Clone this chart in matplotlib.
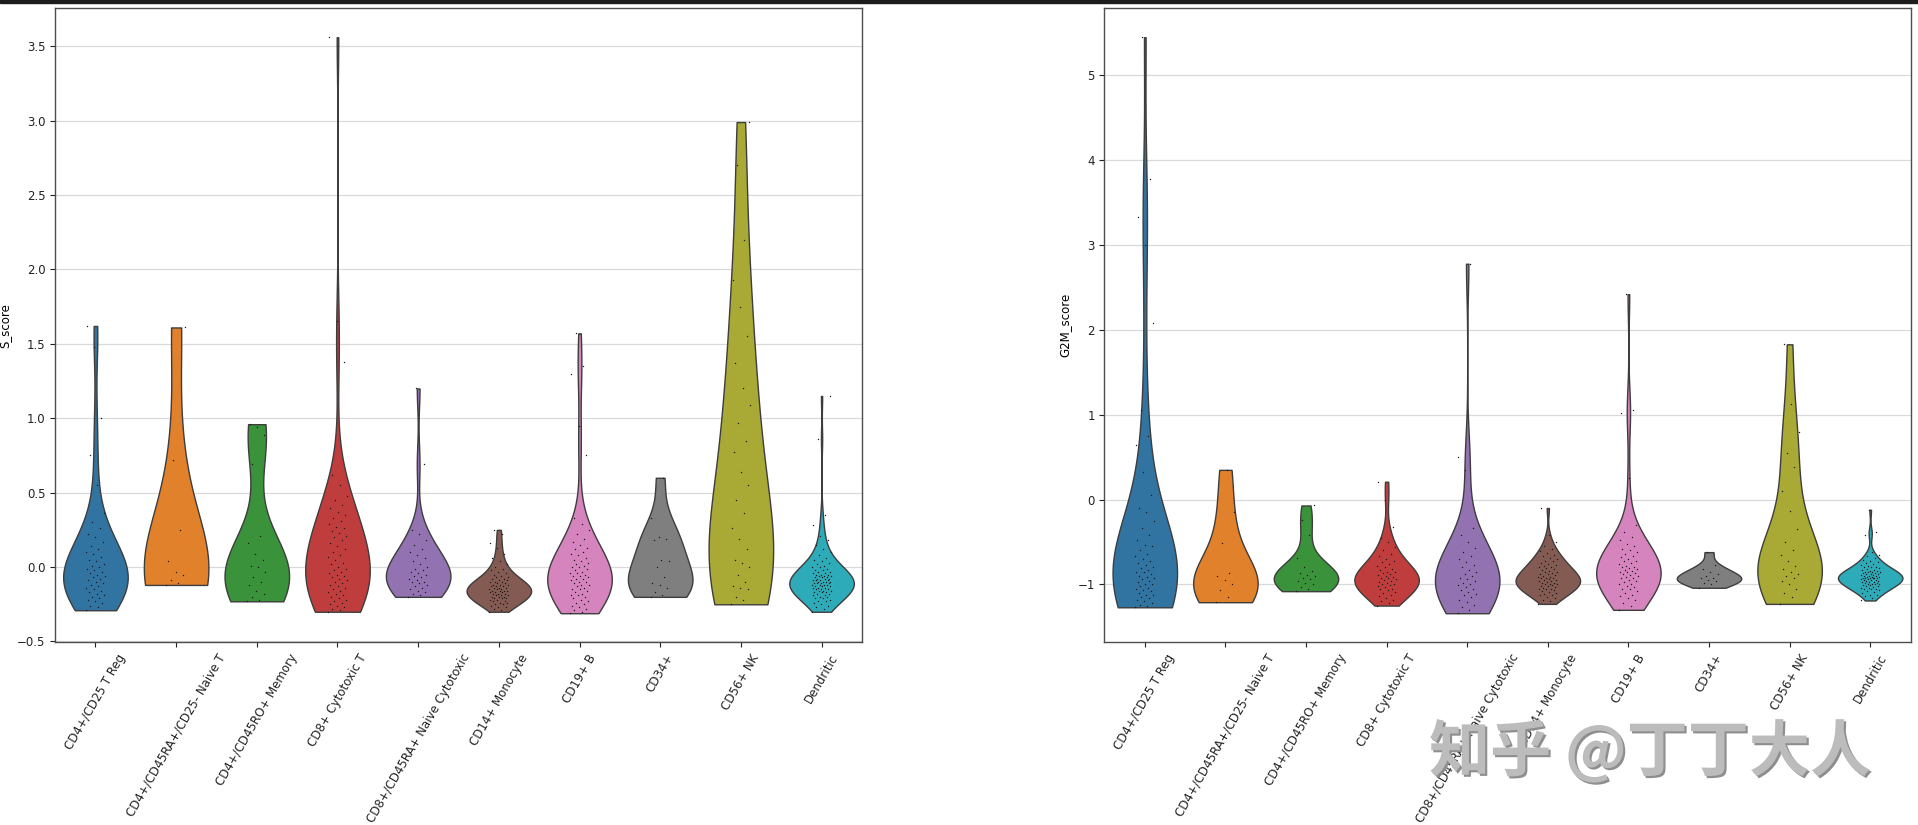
import numpy as np
import matplotlib
matplotlib.use("Agg")
import matplotlib.pyplot as plt
import matplotlib.patheffects as pe
from matplotlib.patches import Rectangle
import seaborn as sns

cell_types = ["CD4+/CD25 T Reg", "CD4+/CD45RA+/CD25- Naive T", "CD4+/CD45RO+ Memory",
              "CD8+ Cytotoxic T", "CD8+/CD45RA+ Naive Cytotoxic", "CD14+ Monocyte",
              "CD19+ B", "CD34+", "CD56+ NK", "Dendritic"]

# S_score per cell type
s_treg = [-0.29, -0.27, -0.26, -0.24, -0.23, -0.22, -0.21, -0.2, -0.19, -0.18, -0.17, -0.16,
          -0.15, -0.14, -0.13, -0.12, -0.11, -0.1, -0.09, -0.08, -0.07, -0.06, -0.05, -0.04,
          -0.03, -0.02, -0.01, 0.0, 0.01, 0.02, 0.04, 0.05, 0.07, 0.09, 0.1, 0.12, 0.14, 0.17,
          0.2, 0.22, 0.26, 0.3, 0.36, 0.55, 0.75, 1.0, 1.48, 1.62]
s_naive_t = [-0.12, -0.11, -0.09, -0.05, -0.03, 0.04, 0.25, 0.72, 1.61]
s_memory = [-0.23, -0.22, -0.2, -0.18, -0.16, -0.12, -0.1, -0.07, -0.03, 0.0, 0.01, 0.05,
            0.09, 0.16, 0.21, 0.69, 0.89, 0.94, 0.96]
s_cd8 = [-0.3, -0.29, -0.28, -0.27, -0.26, -0.25, -0.24, -0.23, -0.22, -0.21, -0.2, -0.19,
         -0.18, -0.17, -0.16, -0.15, -0.14, -0.13, -0.12, -0.11, -0.1, -0.09, -0.08, -0.07,
         -0.06, -0.05, -0.04, -0.03, -0.02, -0.01, 0.0, 0.02, 0.03, 0.05, 0.07, 0.08, 0.1,
         0.12, 0.14, 0.16, 0.18, 0.2, 0.21, 0.23, 0.24, 0.26, 0.27, 0.29, 0.31, 0.33, 0.35,
         0.37, 0.4, 0.42, 0.45, 0.48, 0.55, 0.62, 1.38, 1.65, 3.56]
s_naive_cyto = [-0.2, -0.19, -0.18, -0.17, -0.16, -0.15, -0.14, -0.13, -0.12, -0.11, -0.1,
                -0.1, -0.09, -0.08, -0.07, -0.06, -0.05, -0.04, -0.03, -0.02, -0.01, 0.0,
                0.02, 0.04, 0.06, 0.08, 0.1, 0.12, 0.15, 0.18, 0.22, 0.25, 0.69, 1.2]
s_mono = [-0.3, -0.29, -0.28, -0.27, -0.27, -0.26, -0.25, -0.25, -0.24, -0.24, -0.23, -0.23,
          -0.22, -0.22, -0.21, -0.21, -0.21, -0.2, -0.2, -0.2, -0.19, -0.19, -0.19, -0.18,
          -0.18, -0.18, -0.17, -0.17, -0.17, -0.16, -0.16, -0.16, -0.16, -0.15, -0.15, -0.15,
          -0.14, -0.14, -0.14, -0.13, -0.13, -0.13, -0.12, -0.12, -0.12, -0.11, -0.11, -0.1,
          -0.1, -0.1, -0.09, -0.09, -0.08, -0.08, -0.07, -0.07, -0.06, -0.05, -0.04, -0.03,
          -0.02, -0.01, 0.0, 0.02, 0.04, 0.06, 0.09, 0.13, 0.16, 0.22, 0.25]
s_b = [-0.31, -0.3, -0.29, -0.28, -0.27, -0.26, -0.25, -0.24, -0.23, -0.22, -0.21, -0.2,
       -0.19, -0.19, -0.18, -0.17, -0.16, -0.15, -0.15, -0.14, -0.13, -0.12, -0.12, -0.11,
       -0.1, -0.1, -0.09, -0.08, -0.08, -0.07, -0.06, -0.06, -0.05, -0.04, -0.04, -0.03,
       -0.02, -0.01, 0.0, 0.0, 0.01, 0.02, 0.03, 0.04, 0.05, 0.06, 0.08, 0.09, 0.1, 0.12,
       0.13, 0.15, 0.17, 0.19, 0.22, 0.25, 0.29, 0.33, 0.75, 0.95, 1.3, 1.35, 1.57]
s_cd34 = [-0.2, -0.19, -0.17, -0.14, -0.12, -0.11, -0.07, 0.0, 0.04, 0.05, 0.18, 0.19, 0.2,
          0.33, 0.6]
s_nk = [-0.25, -0.22, -0.2, -0.15, -0.14, -0.13, -0.1, -0.05, 0.0, 0.03, 0.05, 0.12, 0.19,
        0.26, 0.36, 0.45, 0.55, 0.64, 0.77, 0.85, 0.97, 1.09, 1.2, 1.37, 1.55, 1.75, 1.93,
        2.2, 2.7, 2.99]
s_dendritic = [-0.3, -0.28, -0.27, -0.26, -0.25, -0.24, -0.23, -0.23, -0.22, -0.21, -0.21,
               -0.2, -0.2, -0.19, -0.19, -0.18, -0.18, -0.17, -0.17, -0.17, -0.16, -0.16,
               -0.16, -0.15, -0.15, -0.15, -0.14, -0.14, -0.14, -0.13, -0.13, -0.13, -0.12,
               -0.12, -0.12, -0.12, -0.11, -0.11, -0.11, -0.11, -0.1, -0.1, -0.1, -0.1, -0.09,
               -0.09, -0.09, -0.09, -0.08, -0.08, -0.08, -0.07, -0.07, -0.07, -0.06, -0.06,
               -0.06, -0.05, -0.05, -0.05, -0.04, -0.04, -0.03, -0.03, -0.02, -0.02, -0.01,
               0.0, 0.0, 0.01, 0.02, 0.03, 0.04, 0.05, 0.06, 0.08, 0.1, 0.12, 0.15, 0.18, 0.21,
               0.28, 0.35, 0.86, 1.15]

# G2M_score per cell type
g_treg = [-1.27, -1.26, -1.24, -1.22, -1.2, -1.18, -1.16, -1.15, -1.13, -1.12, -1.1, -1.08,
          -1.07, -1.05, -1.04, -1.02, -1.0, -0.99, -0.97, -0.96, -0.94, -0.93, -0.91, -0.9,
          -0.88, -0.86, -0.85, -0.83, -0.81, -0.79, -0.77, -0.75, -0.72, -0.7, -0.67, -0.64,
          -0.6, -0.55, -0.53, -0.48, -0.42, -0.33, -0.25, -0.15, -0.1, 0.05, 0.32, 0.64, 0.75,
          1.05, 2.08, 3.0, 3.33, 3.78, 5.45]
g_naive_t = [-1.21, -1.15, -1.07, -1.0, -0.95, -0.9, -0.87, -0.51, -0.15, 0.35]
g_memory = [-1.08, -1.05, -1.03, -1.0, -0.98, -0.96, -0.94, -0.92, -0.9, -0.89, -0.87, -0.84,
            -0.8, -0.69, -0.42, -0.24, -0.07]
g_cd8 = [-1.25, -1.22, -1.2, -1.18, -1.16, -1.14, -1.12, -1.1, -1.09, -1.07, -1.06, -1.05,
         -1.03, -1.02, -1.01, -1.0, -0.99, -0.98, -0.97, -0.96, -0.95, -0.94, -0.93, -0.92,
         -0.91, -0.9, -0.89, -0.88, -0.87, -0.86, -0.85, -0.83, -0.82, -0.8, -0.78, -0.76,
         -0.74, -0.72, -0.7, -0.67, -0.64, -0.6, -0.56, -0.5, -0.45, -0.32, 0.0, 0.21]
g_naive_cyto = [-1.34, -1.3, -1.27, -1.24, -1.21, -1.18, -1.15, -1.13, -1.11, -1.09, -1.07,
                -1.05, -1.03, -1.01, -1.0, -0.98, -0.96, -0.94, -0.92, -0.9, -0.88, -0.86,
                -0.83, -0.8, -0.77, -0.74, -0.7, -0.66, -0.62, -0.57, -0.5, -0.42, -0.34,
                0.35, 0.5, 2.78]
g_mono = [-1.23, -1.2, -1.18, -1.16, -1.15, -1.13, -1.12, -1.11, -1.1, -1.09, -1.08, -1.07,
          -1.06, -1.05, -1.05, -1.04, -1.03, -1.02, -1.02, -1.01, -1.0, -1.0, -0.99, -0.98,
          -0.98, -0.97, -0.96, -0.96, -0.95, -0.95, -0.94, -0.93, -0.93, -0.92, -0.91, -0.91,
          -0.9, -0.89, -0.88, -0.88, -0.87, -0.86, -0.85, -0.84, -0.83, -0.82, -0.81, -0.8,
          -0.79, -0.78, -0.77, -0.76, -0.75, -0.73, -0.72, -0.7, -0.69, -0.67, -0.65, -0.63,
          -0.61, -0.58, -0.55, -0.5, -0.42, -0.1]
g_b = [-1.3, -1.25, -1.22, -1.19, -1.16, -1.14, -1.12, -1.1, -1.08, -1.06, -1.05, -1.03,
       -1.02, -1.0, -0.99, -0.97, -0.96, -0.95, -0.93, -0.92, -0.91, -0.9, -0.89, -0.88,
       -0.87, -0.86, -0.85, -0.84, -0.83, -0.82, -0.81, -0.8, -0.79, -0.78, -0.76, -0.75,
       -0.73, -0.72, -0.7, -0.68, -0.66, -0.64, -0.62, -0.6, -0.58, -0.55, -0.52, -0.48,
       -0.44, -0.38, -0.3, 0.25, 1.02, 1.05, 2.42]
g_cd34 = [-1.04, -1.0, -0.98, -0.96, -0.95, -0.93, -0.92, -0.9, -0.88, -0.85, -0.82, -0.77,
          -0.62]
g_nk = [-1.23, -1.15, -1.1, -1.05, -1.0, -0.96, -0.93, -0.9, -0.88, -0.85, -0.82, -0.78,
        -0.72, -0.65, -0.59, -0.5, -0.35, -0.14, 0.1, 0.38, 0.55, 0.8, 1.13, 1.83]
g_dendritic = [-1.19, -1.16, -1.14, -1.13, -1.12, -1.1, -1.09, -1.08, -1.07, -1.06, -1.06,
               -1.05, -1.04, -1.04, -1.03, -1.02, -1.02, -1.01, -1.01, -1.0, -1.0, -0.99,
               -0.99, -0.98, -0.98, -0.97, -0.97, -0.97, -0.96, -0.96, -0.95, -0.95, -0.95,
               -0.94, -0.94, -0.93, -0.93, -0.93, -0.92, -0.92, -0.92, -0.91, -0.91, -0.91,
               -0.9, -0.9, -0.9, -0.89, -0.89, -0.88, -0.88, -0.88, -0.87, -0.87, -0.86,
               -0.86, -0.85, -0.85, -0.84, -0.84, -0.83, -0.83, -0.82, -0.81, -0.8, -0.8,
               -0.79, -0.78, -0.77, -0.76, -0.75, -0.74, -0.73, -0.71, -0.69, -0.67, -0.65,
               -0.62, -0.42, -0.38, -0.12]

s_groups = [s_treg, s_naive_t, s_memory, s_cd8, s_naive_cyto, s_mono, s_b, s_cd34, s_nk,
            s_dendritic]
g_groups = [g_treg, g_naive_t, g_memory, g_cd8, g_naive_cyto, g_mono, g_b, g_cd34, g_nk,
            g_dendritic]

# seaborn-style desaturated tab10
colors = [sns.desaturate(c, 0.75) for c in plt.get_cmap("tab10").colors]

plt.rcParams["font.family"] = "DejaVu Sans"
plt.rcParams["font.size"] = 8.5

fig = plt.figure(figsize=(19.18, 8.25), dpi=100)
ax1 = fig.add_axes([0.02873, 0.2218, 0.42064, 0.7680])
ax2 = fig.add_axes([0.57586, 0.2218, 0.42023, 0.7680])


def violin_panel(ax, groups, ylabel):
    for i, (vals, col) in enumerate(zip(groups, colors)):
        parts = ax.violinplot([vals], positions=[i], widths=0.8, showextrema=False,
                              points=400)
        body = parts["bodies"][0]
        body.set_facecolor(col)
        body.set_edgecolor("#3d3d3d")
        body.set_linewidth(1.0)
        body.set_alpha(1)
        body.set_zorder(2)
        # even jitter for the strip points
        jit = ((np.arange(len(vals)) * 0.618034) % 1 - 0.5) * 0.24
        ax.scatter(i + jit, vals, s=1.0, c="#1a1a1a", linewidths=0, zorder=3)
    ax.set_xlim(-0.5, len(groups) - 0.5)
    ax.set_xticks(range(len(groups)))
    ax.set_xticklabels(cell_types, rotation=60)
    ax.set_ylabel(ylabel)
    ax.grid(axis="y", color="#d9d9d9", linewidth=0.9)
    ax.set_axisbelow(True)
    for sp in ax.spines.values():
        sp.set_color("#4d4d4d")
        sp.set_linewidth(1.0)
    ax.tick_params(colors="#222222", length=3.5)


violin_panel(ax1, s_groups, "S_score")
violin_panel(ax2, g_groups, "G2M_score")

# dark strip along the top edge of the screenshot
fig.add_artist(Rectangle((0, 1 - 3 / 825), 1, 3 / 825, transform=fig.transFigure,
                         color="#1c1c1c", zorder=10))

# watermark
fig.text(1429 / 1918, 1 - 771 / 825, "知乎 @丁丁大人", fontsize=44, fontweight="bold",
         color="#bcbcbc", ha="left", va="baseline",
         family=["Noto Sans CJK SC", "DejaVu Sans"], zorder=20,
         path_effects=[pe.withSimplePatchShadow(offset=(1.5, -1.5), shadow_rgbFace="#8e8e8e",
                                               alpha=1)])

fig.savefig("out.png", dpi=100)
